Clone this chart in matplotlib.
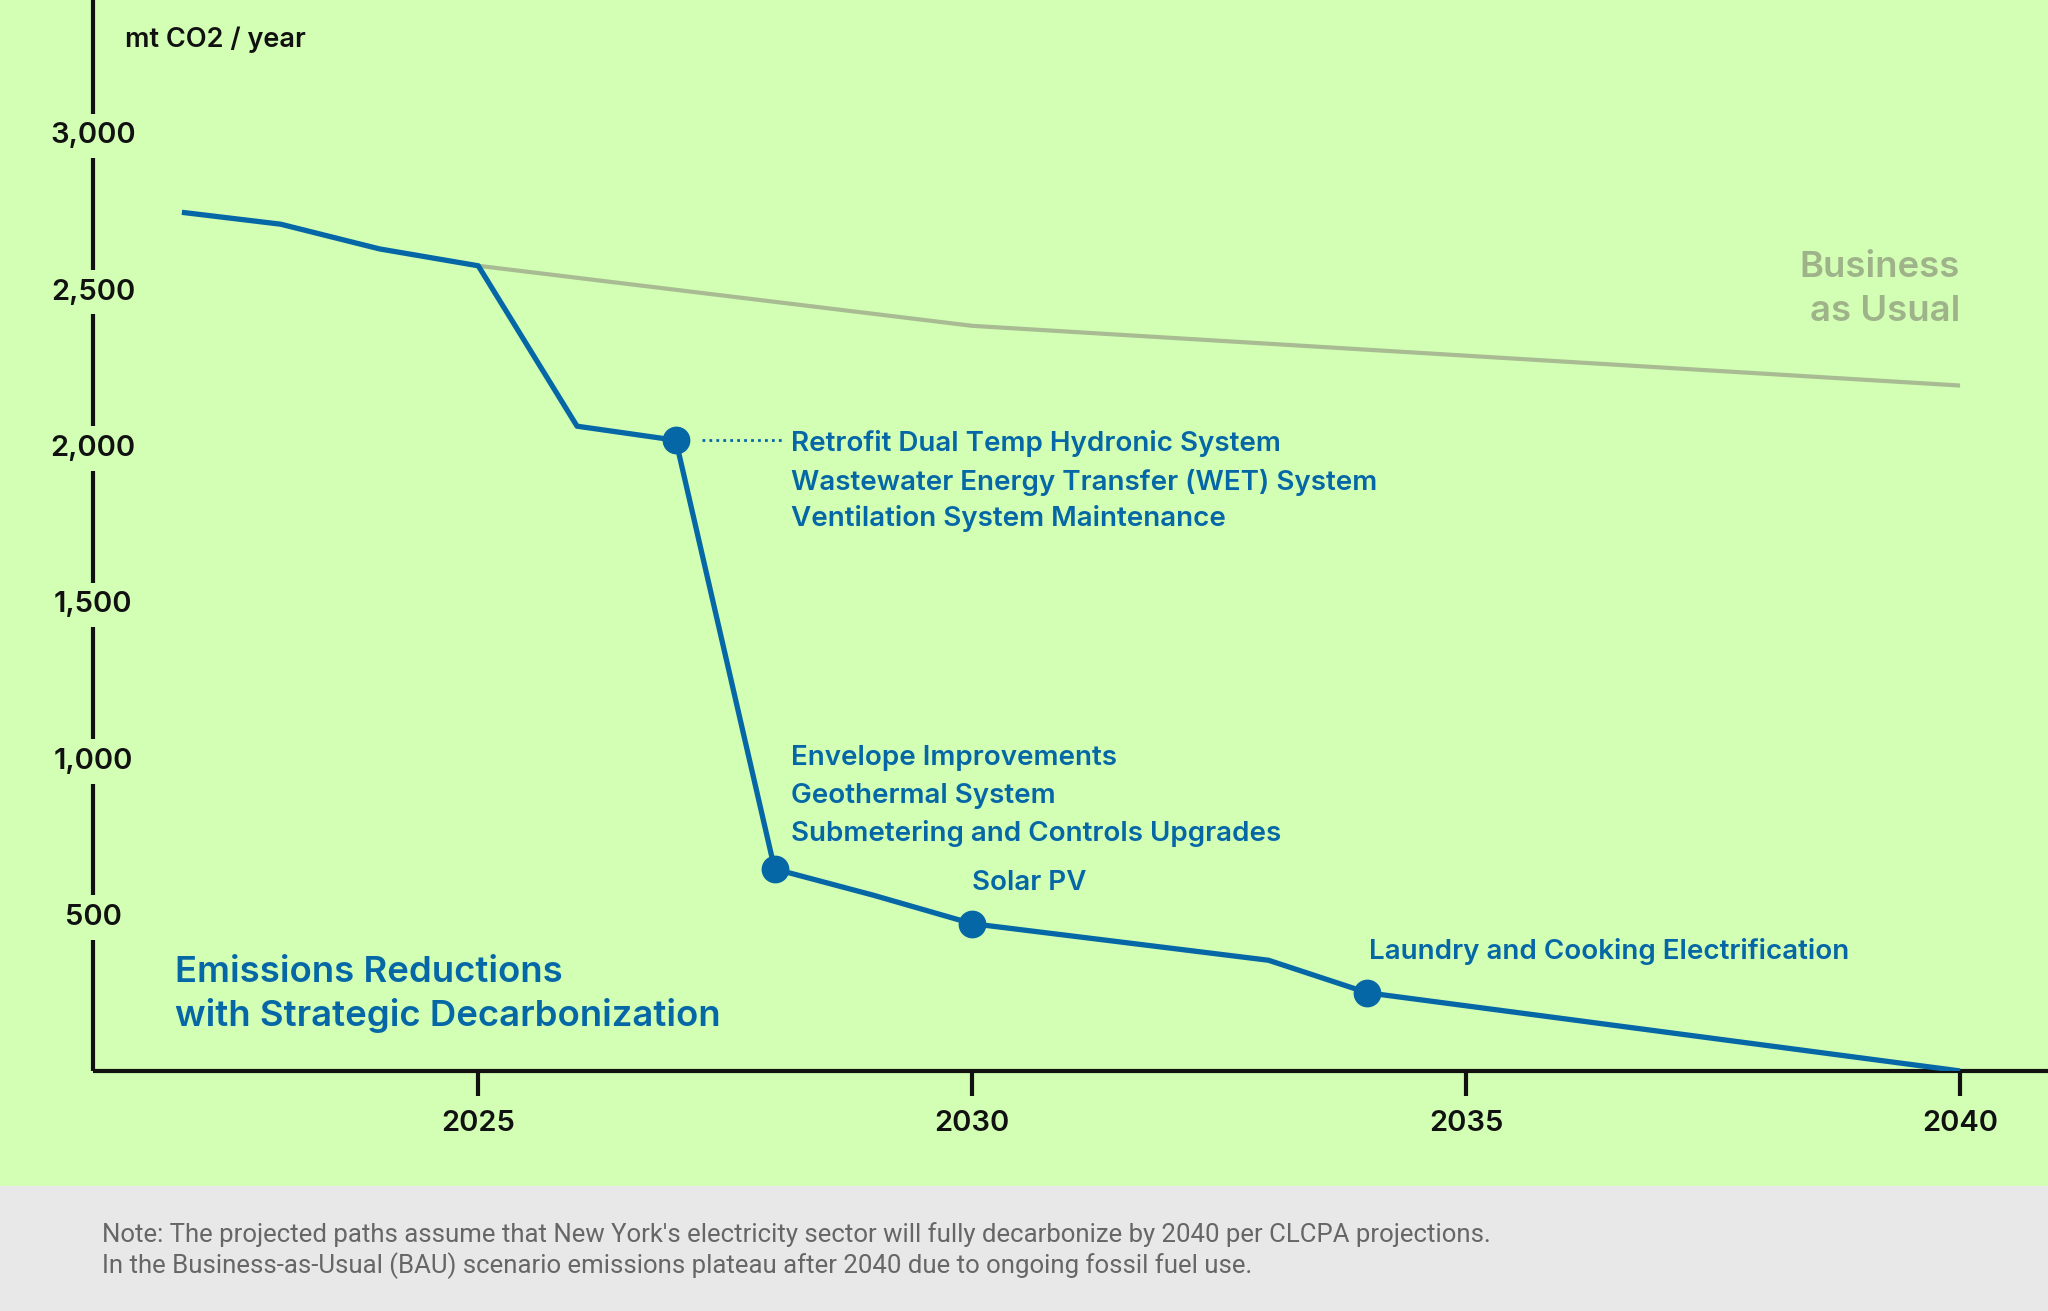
import matplotlib
matplotlib.use("Agg")
import matplotlib.pyplot as plt
from matplotlib.patches import Rectangle
import matplotlib.transforms as mtransforms

# ---- data ----
years_strategic = [2022, 2023, 2024, 2025, 2026, 2027, 2028, 2029, 2030, 2033, 2034, 2040]
emissions_strategic = [2746, 2708, 2629, 2575, 2062, 2017, 646, 562, 471, 354, 250, 0]
milestone_years = [2027, 2028, 2030, 2034]
milestone_values = [2017, 646, 471, 250]

years_bau = [2025, 2030, 2040]
emissions_bau = [2575, 2383, 2192]

y_ticks = [500, 1000, 1500, 2000, 2500, 3000]
y_tick_labels = ["500", "1,000", "1,500", "2,000", "2,500", "3,000"]
x_ticks = [2025, 2030, 2035, 2040]
x_tick_labels = ["2025", "2030", "2035", "2040"]

labels_2027 = ["Retrofit Dual Temp Hydronic System",
               "Wastewater Energy Transfer (WET) System",
               "Ventilation System Maintenance"]
labels_2028 = ["Envelope Improvements", "Geothermal System",
               "Submetering and Controls Upgrades"]
label_2030 = "Solar PV"
label_2034 = "Laundry and Cooking Electrification"

footer_lines = ["Note: The projected paths assume that New York's electricity sector will fully decarbonize by 2040 per CLCPA projections.",
                "In the Business-as-Usual (BAU) scenario emissions plateau after 2040 due to ongoing fossil fuel use."]

# ---- style ----
BG = "#D2FFB4"
FOOT = "#E8E8E8"
BLUE = "#0567A6"
BAU_LINE = "#A8BB92"
BAU_TEXT = "#9FB38A"
INK = "#111111"
FONT = ["Inter", "DejaVu Sans"]
VA = "center_baseline"

fig = plt.figure(figsize=(20.48, 13.11), dpi=100, facecolor=BG)
fig.patches.append(Rectangle((0, 0), 1, 0.0954, transform=fig.transFigure,
                             facecolor=FOOT, edgecolor="none", zorder=0))

ax = fig.add_axes([0.0454, 0.1831, 0.9546, 0.8169])
ax.set_facecolor("none")
ax.set_xlim(2021.10, 2040.89)
ax.set_ylim(0, 3425)

for s in ["top", "right"]:
    ax.spines[s].set_visible(False)
for s in ["left", "bottom"]:
    ax.spines[s].set_linewidth(3)
    ax.spines[s].set_color(INK)
    ax.spines[s].set_capstyle("butt")

ax.set_xticks(x_ticks)
ax.set_xticklabels(x_tick_labels, fontsize=21, fontweight="semibold", family=FONT, color=INK)
ax.tick_params(axis="x", length=18, width=3, color=INK, pad=10, direction="out")
ax.set_yticks([])

# y tick labels centered on the axis, masking it
trans = mtransforms.blended_transform_factory(ax.transAxes, ax.transData)
for v, lab in zip(y_ticks, y_tick_labels):
    ax.text(0, v, lab, transform=trans, ha="center", va=VA, fontsize=21,
            fontweight="semibold", family=FONT, color=INK, zorder=5, clip_on=False,
            bbox=dict(boxstyle="square,pad=0.3", facecolor=BG, edgecolor="none"))

ax.text(2021.42, 3307, "mt CO2 / year", ha="left", va=VA, fontsize=19.5,
        fontweight="semibold", family=FONT, color=INK)

# lines
ax.plot(years_bau, emissions_bau, color=BAU_LINE, lw=3, solid_capstyle="butt", zorder=2)
ax.plot(years_strategic, emissions_strategic, color=BLUE, lw=3.8,
        solid_joinstyle="round", solid_capstyle="butt", zorder=3)
ax.plot(milestone_years, milestone_values, "o", color=BLUE, ms=19, zorder=4)

# dotted leader
ax.plot([2027.26, 2028.07], [2017, 2017], color=BLUE, lw=2, ls=(0, (1, 1.5)), zorder=3)

ann = dict(fontsize=20, fontweight="semibold", family=FONT, color=BLUE, ha="left", va=VA)
for t, y in zip(labels_2027, [2015, 1893, 1775]):
    ax.text(2028.17, y, t, **ann)
for t, y in zip(labels_2028, [1011, 889, 768]):
    ax.text(2028.17, y, t, **ann)
ax.text(2030.0, 611, label_2030, **ann)
ax.text(2034.02, 393, label_2034, **ann)

big = dict(fontsize=26.3, fontweight="semibold", family=FONT, va=VA)
ax.text(2021.93, 326, "Emissions Reductions", color=BLUE, ha="left", **big)
ax.text(2021.93, 189, "with Strategic Decarbonization", color=BLUE, ha="left", **big)
ax.text(2040.0, 2581, "Business", color=BAU_TEXT, ha="right", **big)
ax.text(2040.0, 2440, "as Usual", color=BAU_TEXT, ha="right", **big)

# footer
for t, yp in zip(footer_lines, [1232, 1263]):
    fig.text(102 / 2048, 1 - yp / 1311, t, ha="left", va=VA, fontsize=18.5,
             family=["Roboto", "DejaVu Sans"], color="#666666")

fig.savefig("out.png", dpi=100, facecolor=BG)
